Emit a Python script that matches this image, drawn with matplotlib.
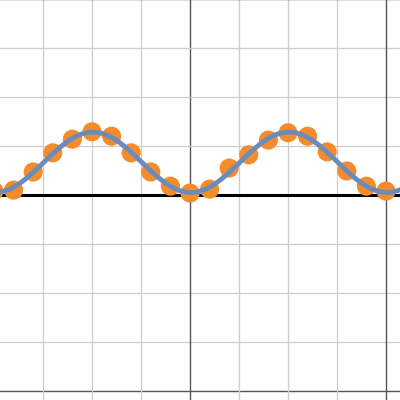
import matplotlib
matplotlib.use("Agg")
import matplotlib.pyplot as plt
import numpy as np

# sample points
xs = [-4.0, -3.6, -3.2, -2.8, -2.4, -2.0, -1.6, -1.2, -0.8, -0.4, 0.0,
      0.4, 0.8, 1.2, 1.6, 2.0, 2.4, 2.8, 3.2, 3.6, 4.0]
ys = [0.08, 0.10, 0.47, 0.86, 1.14, 1.29, 1.20, 0.86, 0.47, 0.18, 0.04,
      0.12, 0.55, 0.82, 1.12, 1.27, 1.20, 0.88, 0.49, 0.18, 0.08]
period = 4.0

# fitted curve through the points (least squares on a sinusoid)
xs_a = np.array(xs)
w = 2 * np.pi / period
A = np.column_stack([np.ones_like(xs_a), np.cos(w * xs_a), np.sin(w * xs_a)])
coef, *_ = np.linalg.lstsq(A, np.array(ys), rcond=None)
xf = np.linspace(-4.2, 4.4, 400)
yf = coef[0] + coef[1] * np.cos(w * xf) + coef[2] * np.sin(w * xf)

fig = plt.figure(figsize=(4, 4), dpi=100)
ax = fig.add_axes([0, 0, 1, 1])
ax.set_xlim(-190 / 49, 210 / 49)
ax.set_ylim(-205 / 49, 195 / 49)

for v in range(-4, 5):
    c = "#555555" if v % 4 == 0 else "#cccccc"
    lw = 1.0 if v % 4 == 0 else 0.9
    ax.axvline(v, color=c, lw=lw, zorder=0)
    ax.axhline(v, color=c, lw=lw, zorder=0)
ax.axhline(0, color="black", lw=2.2, zorder=1)

ax.scatter(xs, ys, s=190, color="#f58c2c", zorder=2, edgecolors="none")
ax.plot(xf, yf, color="#6b8cba", lw=3.5, zorder=3)

ax.set_xticks([])
ax.set_yticks([])
for s in ax.spines.values():
    s.set_visible(False)

fig.savefig("out.png", dpi=100)
